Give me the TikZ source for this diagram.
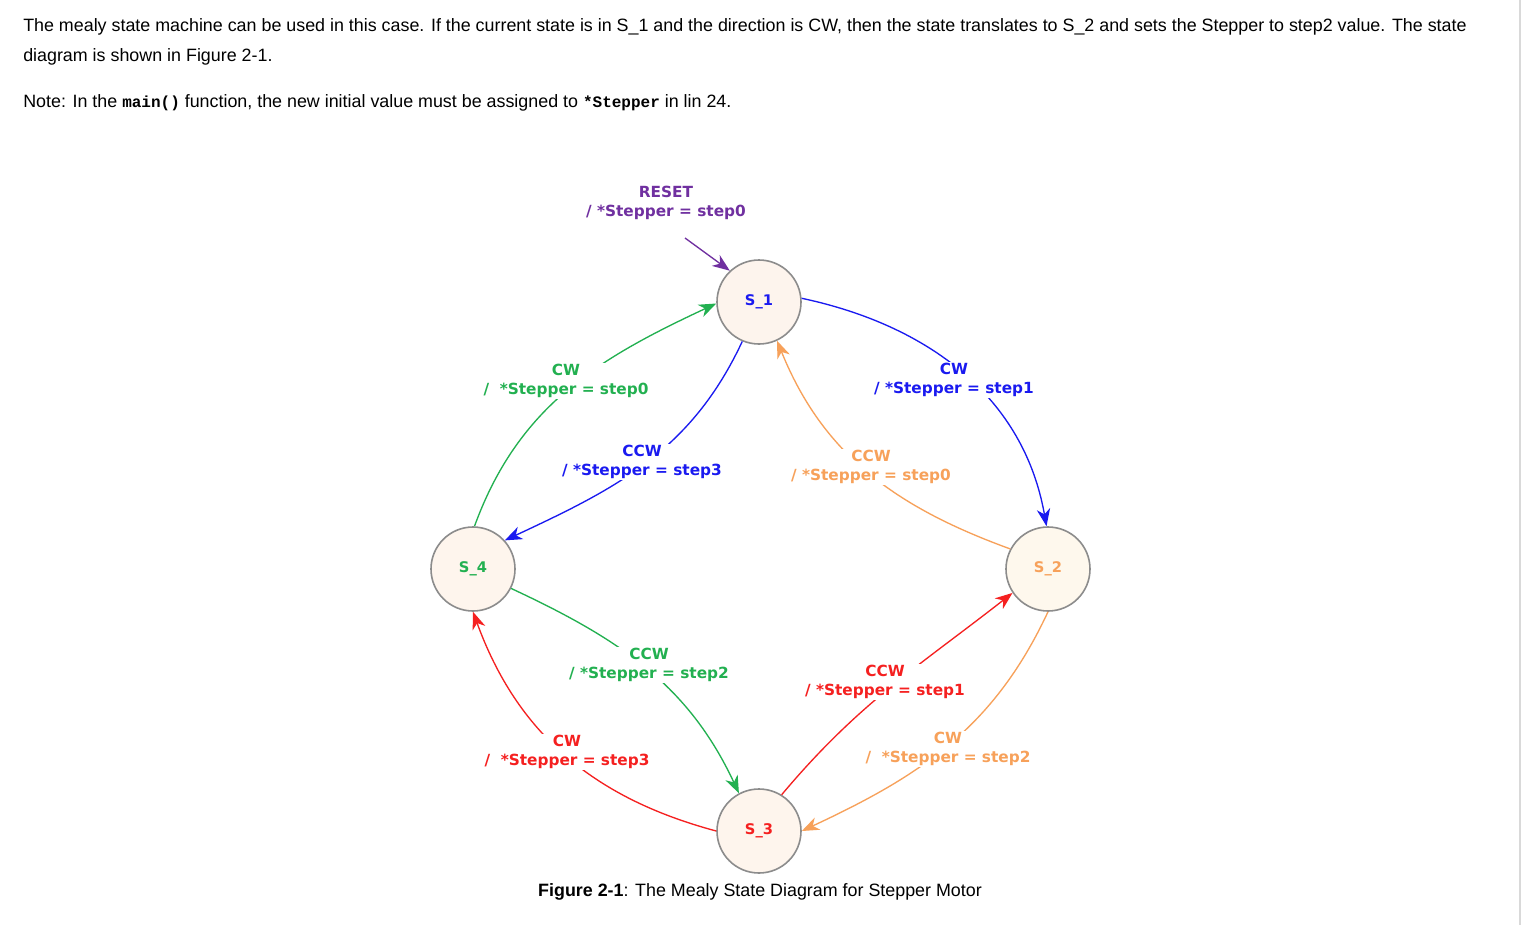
\documentclass[tikz,border=0pt]{standalone}
\usepackage{fontspec}
\setmainfont{Liberation Sans}
\setmonofont{Liberation Mono}
\newfontfamily\lblfont{DejaVu Sans}
\usetikzlibrary{arrows.meta}
\definecolor{cpur}{HTML}{7030A0}
\definecolor{cblue}{HTML}{1A1AF0}
\definecolor{cgreen}{HTML}{22B050}
\definecolor{corange}{HTML}{F7A15A}
\definecolor{cred}{HTML}{F52020}
\begin{document}
\begin{tikzpicture}[x=0.75pt,y=-0.75pt,
  st/.style={circle,draw=gray!90,line width=1.2pt,minimum size=63pt,inner sep=0pt,font=\lblfont\bfseries\fontsize{11}{12}\selectfont},
  lbl/.style={fill=white,inner sep=1pt,align=center,font=\lblfont\bfseries\fontsize{11.5}{14.5}\selectfont},
  ed/.style={line width=1pt,-{Stealth[length=13pt,width=10pt,inset=4pt]}},
  para/.style={anchor=base west,inner sep=0pt,font=\fontsize{13.4}{15}\selectfont}]
\useasboundingbox (0,0) rectangle (1536,925);
\fill[white] (0,0) rectangle (1536,925);
\draw[gray!30,line width=1pt] (1520,0) -- (1520,925);
\node[para] (p1) at (23,31) {The mealy state machine can be used in this case. If the current state is in S\_1 and the direction is CW, then the state translates to S\_2 and sets the Stepper to step2 value. The state};
\node[para] (p2) at (23,61) {diagram is shown in Figure 2-1.};
\node[para] (p3) at (23,107) {Note: In the {\fontsize{12}{15}\selectfont\texttt{\bfseries main()}} function, the new initial value must be assigned to {\fontsize{12}{15}\selectfont\texttt{\bfseries *Stepper}} in lin 24.};

\node[st,fill={rgb,255:red,253;green,244;blue,237},text=cblue] (S1) at (759,302) {S\_1};
\node[st,fill={rgb,255:red,254;green,248;blue,237},text=corange] (S2) at (1048,569) {S\_2};
\node[st,fill={rgb,255:red,254;green,245;blue,237},text=cred] (S3) at (759,831) {S\_3};
\node[st,fill={rgb,255:red,254;green,245;blue,237},text=cgreen] (S4) at (473,569) {S\_4};

\coordinate (r0) at (685,238);
\draw[ed,cpur] (r0) -- (S1.133);
\node[lbl,text=cpur] (lr) at (666,203) {RESET\\/ *Stepper = step0};

\draw[ed,cblue] (S1.5) to[out=-12,in=100] (S2.92);
\draw[ed,cgreen] (S4.88) to[out=70,in=205] (S1.182);
\draw[ed,cblue] (S1.-113) to[out=-115,in=25] (S4.42);
\draw[ed,corange] (S2.152) to[out=160,in=-68] (S1.-65);
\draw[ed,cgreen] (S4.-27) to[out=-25,in=115] (S3.118);
\draw[ed,cred] (S3.58) to[out=50,in=218] (S2.214);
\draw[ed,corange] (S2.-90) to[out=-115,in=25] (S3.0);
\draw[ed,cred] (S3.180) to[out=165,in=-70] (S4.-90);

\node[lbl,text=cblue] (l12) at (954,380) {CW\\/ *Stepper = step1};
\node[lbl,text=cgreen] (l41) at (566,381) {CW\\/~~*Stepper = step0};
\node[lbl,text=cblue] (l14) at (642,462) {CCW\\/ *Stepper = step3};
\node[lbl,text=corange] (l21) at (871,467) {CCW\\/ *Stepper = step0};
\node[lbl,text=cgreen] (l43) at (649,665) {CCW\\/ *Stepper = step2};
\node[lbl,text=cred] (l32) at (885,682) {CCW\\/ *Stepper = step1};
\node[lbl,text=corange] (l23) at (948,749) {CW\\/~~*Stepper = step2};
\node[lbl,text=cred] (l34) at (567,752) {CW\\/~~*Stepper = step3};

\node[inner sep=0pt,font=\fontsize{13.4}{15}\selectfont] (cap) at (760,892) {\textbf{Figure 2-1}: The Mealy State Diagram for Stepper Motor};
\end{tikzpicture}
\end{document}
